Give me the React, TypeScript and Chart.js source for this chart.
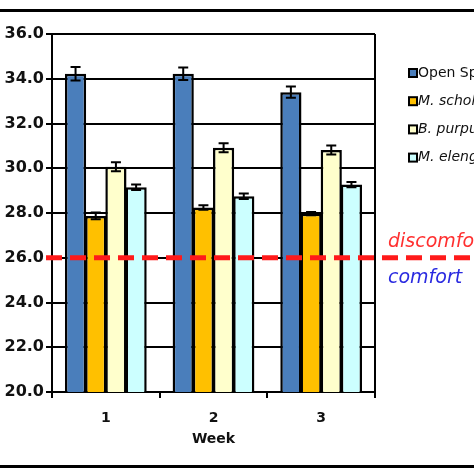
import { useEffect, useRef } from 'react';
import { Chart, ChartConfiguration, Plugin, registerables } from 'chart.js';

Chart.register(...registerables);

const weeks = ['1', '2', '3'];
const seriesLabels = ['Open Space', 'M. scholaris', 'B. purpurea', 'M. elengi'];
const seriesItalic = [false, true, true, true];
const seriesColors = ['#4a7ebb', '#ffc000', '#ffffcc', '#ccffff'];

const openSpace = [34.22, 34.22, 33.4];
const mScholaris = [27.87, 28.25, 27.97];
const bPurpurea = [30.07, 30.92, 30.82];
const mElengi = [29.15, 28.75, 29.27];

const openSpaceErr = [0.3, 0.28, 0.25];
const mScholarisErr = [0.15, 0.1, 0.07];
const bPurpureaErr = [0.2, 0.2, 0.2];
const mElengiErr = [0.12, 0.12, 0.12];

const yTicks = { min: 20, max: 36, step: 2 };
const threshold = 26;
const aboveLabel = 'discomfort';
const belowLabel = 'comfort';
const xTitle = 'Week';

const allErrors = [openSpaceErr, mScholarisErr, bPurpureaErr, mElengiErr];
const FONT = '"DejaVu Sans", sans-serif';

// error bars, comfort line, legend and frame lines
const extras: Plugin<'bar'> = {
  id: 'extras',
  afterDatasetsDraw(chart) {
    const { ctx, chartArea, scales } = chart;
    const y = scales.y;
    ctx.save();

    // error bars
    ctx.strokeStyle = '#000';
    ctx.lineWidth = 2;
    chart.data.datasets.forEach((ds, di) => {
      const meta = chart.getDatasetMeta(di);
      meta.data.forEach((bar, i) => {
        const v = ds.data[i] as number;
        const e = allErrors[di][i];
        const x = bar.x;
        const yHi = y.getPixelForValue(v + e);
        const yLo = y.getPixelForValue(v - e);
        ctx.beginPath();
        ctx.moveTo(x, yHi);
        ctx.lineTo(x, yLo);
        ctx.moveTo(x - 5, yHi);
        ctx.lineTo(x + 5, yHi);
        ctx.moveTo(x - 5, yLo);
        ctx.lineTo(x + 5, yLo);
        ctx.stroke();
      });
    });

    // right border of plot
    ctx.beginPath();
    ctx.moveTo(chartArea.right, chartArea.top);
    ctx.lineTo(chartArea.right, chartArea.bottom);
    ctx.stroke();

    // threshold line
    const ty = y.getPixelForValue(threshold);
    ctx.strokeStyle = '#ff1a1a';
    ctx.lineWidth = 5;
    ctx.setLineDash([16, 8]);
    ctx.beginPath();
    ctx.moveTo(chartArea.left - 6, ty);
    ctx.lineTo(chart.width, ty);
    ctx.stroke();
    ctx.setLineDash([]);

    ctx.font = `oblique 19px ${FONT}`;
    ctx.textAlign = 'left';
    ctx.textBaseline = 'alphabetic';
    ctx.fillStyle = '#ff3030';
    ctx.fillText(aboveLabel, chartArea.right + 13, ty - 11);
    ctx.fillStyle = '#2a2ae0';
    ctx.fillText(belowLabel, chartArea.right + 13, ty + 25);

    // legend
    ctx.textBaseline = 'middle';
    chart.data.datasets.forEach((ds, di) => {
      const ly = 73 + di * 28.2;
      ctx.fillStyle = seriesColors[di];
      ctx.fillRect(409, ly - 4, 8, 8);
      ctx.strokeStyle = '#000';
      ctx.lineWidth = 2;
      ctx.strokeRect(409, ly - 4, 8, 8);
      ctx.fillStyle = '#111';
      ctx.font = `${seriesItalic[di] ? 'oblique ' : ''}14px ${FONT}`;
      ctx.fillText(ds.label as string, 418, ly);
    });

    // frame lines
    ctx.fillStyle = '#000';
    ctx.fillRect(0, 9, chart.width, 3);
    ctx.fillRect(0, 465, chart.width, 3);

    ctx.restore();
  },
};

export default function App() {
  const canvasRef = useRef<HTMLCanvasElement | null>(null);

  useEffect(() => {
    if (!canvasRef.current) return;

    const seriesData = [openSpace, mScholaris, bPurpurea, mElengi];

    const config: ChartConfiguration<'bar'> = {
      type: 'bar',
      data: {
        labels: weeks,
        datasets: seriesLabels.map((label, i) => ({
          label,
          data: seriesData[i],
          backgroundColor: seriesColors[i],
          borderColor: '#000',
          borderWidth: 2.5,
          borderSkipped: false,
          categoryPercentage: 0.75,
          barPercentage: 1.05,
        })),
      },
      options: {
        responsive: true,
        maintainAspectRatio: false,
        animation: false,
        layout: { padding: { left: 4, right: 99, top: 34, bottom: 26 } },
        plugins: {
          legend: { display: false },
          tooltip: { enabled: false },
        },
        scales: {
          x: {
            offset: true,
            afterFit: (scale) => {
              scale.height = 56;
            },
            grid: {
              display: true,
              drawOnChartArea: false,
              offset: true,
              color: '#000',
              lineWidth: 2,
              tickLength: 6,
            },
            border: { color: '#000', width: 2 },
            ticks: {
              color: '#111',
              padding: 12,
              font: { family: FONT, size: 14, weight: 'bold' },
            },
            title: {
              display: true,
              text: xTitle,
              color: '#111',
              padding: { top: 0, bottom: 0 },
              font: { family: FONT, size: 14, weight: 'bold' },
            },
          },
          y: {
            min: yTicks.min,
            max: yTicks.max,
            afterFit: (scale) => {
              scale.width = 48;
            },
            grid: {
              color: '#000',
              lineWidth: 2,
              tickLength: 6,
            },
            border: { color: '#000', width: 2 },
            ticks: {
              stepSize: yTicks.step,
              color: '#111',
              padding: 2,
              font: { family: FONT, size: 16, weight: 'bold' },
              callback: (v) => Number(v).toFixed(1),
            },
          },
        },
      },
      plugins: [extras],
    };

    const chart = new Chart(canvasRef.current, config);
    return () => {
      chart.destroy();
    };
  }, []);

  return (
    <div
      style={{
        position: 'fixed',
        left: 0,
        top: 0,
        width: 474,
        height: 474,
        background: '#fff',
        overflow: 'hidden',
      }}
    >
      <canvas ref={canvasRef} />
    </div>
  );
}
